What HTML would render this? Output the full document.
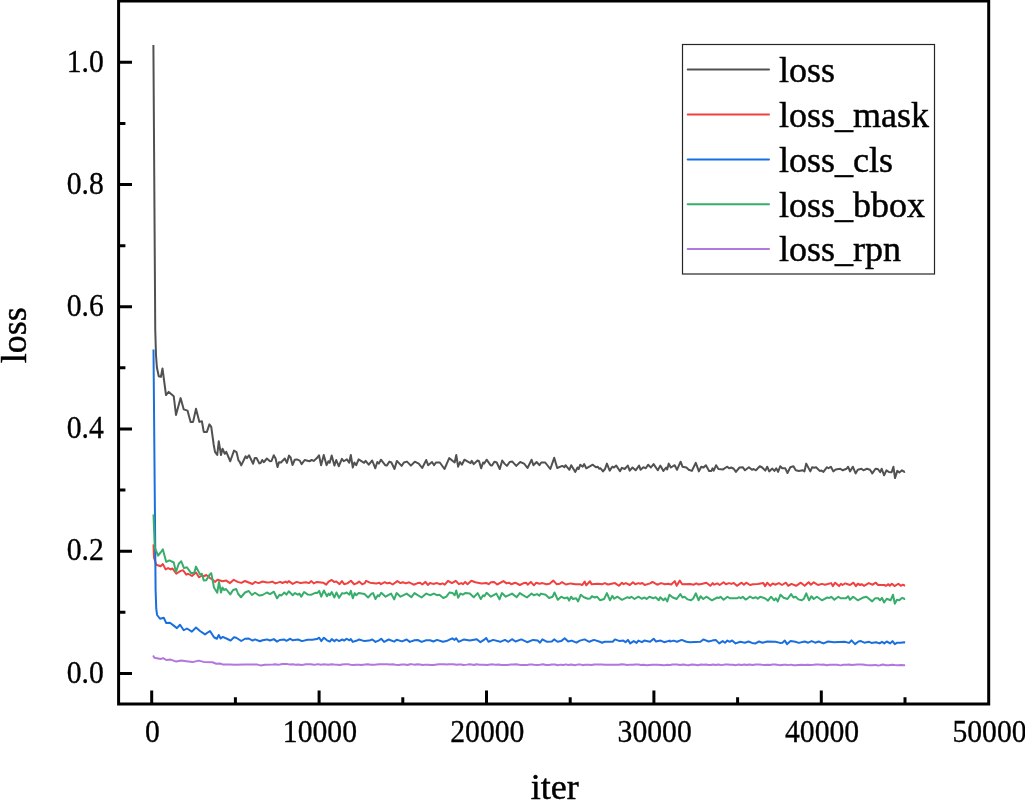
<!DOCTYPE html>
<html lang="en"><head><meta charset="utf-8"><title>loss curves</title>
<style>
html,body{margin:0;padding:0;background:#fff;}
body{width:1025px;height:800px;overflow:hidden;}
svg{display:block;}
text{font-family:"Liberation Serif","Times New Roman",serif;fill:#000;stroke:#000;stroke-width:0.45px;}
.tk text{font-size:30px;stroke-width:0.3px;}
.lb{font-size:36px;}
.ln{fill:none;stroke-width:2;stroke-linejoin:round;stroke-linecap:butt;}
.ax{stroke:#000;stroke-width:3;fill:none;stroke-linecap:butt;}
</style></head><body>
<svg width="1025" height="800" viewBox="0 0 1025 800">
<rect x="0" y="0" width="1025" height="800" fill="#ffffff"/>
<g id="curves">
<polyline class="ln" stroke="#515151" points="153.4,45 155.25,330 156,355 156.9,367.5 158.75,376.25 160.9,376.9 162.5,368.5 166,395 168.75,391.9 173.75,396.25 176,415 180.6,398.1 183.75,409.4 187.5,410.6 190.6,421.9 193.1,421.9 196,408.75 199.4,421.9 201.9,421.25 203.75,431.9 206.9,431.9 209.4,424.4 211.25,426.9 213.75,445 215,451.9 217.25,455 218.75,441.25 221,455 222.5,448.75 224.75,453.75 226.25,451.9 230.25,461.25 234,450.6 236.5,452.1 238.5,460.6 239.4,461.25 241.25,465.4 245.6,456.25 246.9,458.1 249,455.25 253.1,463.75 254.75,458.1 256.5,458.1 259.4,463.4 260.6,463.1 262.25,460 263.75,462.25 266.9,458.5 270,461.25 271.5,461 273.75,455.25 275.6,458.5 277.5,467.1 279,462.25 281,462.5 284.75,458.5 286.9,462.9 289,455.6 290.6,457.5 292.5,465 294.75,459.75 296.9,459.4 299.75,460.6 301.6,464.1 304.7,460 309.4,461.25 311.7,460 313.75,460.9 316.9,458.1 319,455.3 321.1,465.2 323.75,455 326.6,465.2 328.4,461.25 329.7,462.8 331.7,455.5 334.4,465.6 336.25,460 338.75,466.25 341.9,458.9 343.75,461.25 346.9,459.4 349.2,462.8 350.8,455 352.8,467.5 354.4,462.5 356.25,465.2 358.6,459.4 364.1,462.8 365.6,460.9 368.75,464.7 372.2,460.5 375.3,468.3 377.3,462 378.9,463.6 380.9,459.7 385.2,465.2 386.7,465.6 389.4,461.6 391.4,462.5 394.5,469 396.9,460.9 401.6,465.9 403.9,462.5 407,461.6 410.9,465.6 414.8,461.7 418.75,463.6 422.2,468 426.25,460 428.1,465.2 432,462 434.1,465.2 435.9,462.5 439.8,462.5 444.5,469 449.2,458.1 454.7,462.5 456.25,455 458.1,466.7 460,462 461.9,464.7 464.4,459.7 467.8,461.6 470.6,463.1 471.7,460.9 473.75,464.1 477.5,460.5 479.1,461.25 481.1,468.3 483.1,462.5 484.2,463.6 486.6,459.7 490.5,465.2 492,465.6 494.4,461.7 496.7,462.5 499.8,469 502.2,460.5 504.5,463.6 506.9,465.9 509.7,462 512.3,461.6 516.25,465.9 520.2,462 524.1,463.6 527.5,468 531.6,459.7 533.4,465.2 536.6,462 539.4,465.2 541.25,462.5 545.2,462.5 550.3,469 554.2,457.8 557.2,468 562.3,465.9 564.4,467.2 565.5,465.2 569.4,469.8 571.25,465.2 575.3,471.9 577.5,467.5 578.75,469 580.3,464.7 582.7,466.7 584.2,464.1 586.25,468.3 592.8,464.7 595.9,467.2 597.8,466.7 599.1,468.75 600.6,468.3 603,471.4 605,469 606.9,463.6 609.7,470.6 612.3,466.7 613.9,467.5 616.25,465.6 620,471.2 621.9,467.8 624.7,469 627.8,465.6 629.7,470.6 632.5,467.5 635.6,470.3 639.1,465.6 640.6,469.8 643.4,467.2 645.8,468.3 648.1,464.7 650.9,467.5 653.6,464.1 657.8,470.3 660.3,465.6 663.4,470.9 666.1,467.5 667.2,469.4 668.75,463.6 670.8,467.5 674.7,465.2 677,469.8 680.6,461.7 682.5,466.7 686.4,467.5 688.75,469.8 691.9,470.9 695.8,462.8 698.9,471.4 701.25,466.7 703.6,467.5 705.9,465.2 709.1,470.9 711.4,470.9 712.5,468.3 713.75,470.6 716.1,465.2 718.4,469 723.1,469.4 727,466.7 729.4,468.3 731.25,467.5 733.75,468.75 735.9,471.9 739.5,467.5 742.7,467.2 745,470.3 748.9,467.2 752,469.8 753.6,469 755.9,470.3 759.8,466.25 762.2,467.5 765.3,470.6 767.2,466.7 769.2,471.4 772.3,468.6 774.4,470.9 776.25,468.3 778.1,471.9 780.2,466.25 782.2,468.3 785.3,468.3 787.5,473 790.3,467.2 793.4,466.25 795.8,470.3 798.9,470.9 802.8,470.3 804.4,471.4 806.25,463.6 810.3,471.4 812.2,467.2 814.1,467.8 816.1,467.2 819.7,470.9 821.6,470.6 823.4,471.9 827,467.2 828.6,468.3 830.9,466.7 833.3,471.4 835.6,469.4 840.3,468.75 842.7,470.3 846.6,468.75 848.1,466.7 850,471.4 852.8,466.7 855.6,473.4 857.8,469.8 861.4,468.75 863.4,470.3 866.9,468.75 870,469.8 872.3,473.4 875.5,468.75 877.8,469 880.2,472.2 881.7,468.75 884.1,475.3 886.4,470.3 888.75,471.9 891.6,472.2 893.4,466.7 895,478.1 897.3,470.9 899.4,472.5 902,470.3 904.4,471.9 905,471.7"/>
<polyline class="ln" stroke="#F14040" points="153.5,544.4 154,557.5 156.25,564.75 160.6,566.25 162.9,564.1 165.6,569.4 168.1,568.1 170.6,569.4 172.5,568.5 176.25,573.75 180.6,570.9 183.1,570.25 186.25,574.6 188.1,573.75 191.9,576 196,572.5 199,577.25 201.9,575.6 203.75,576.25 206.25,575 210,578.1 213.1,580 215,581.9 217.5,579.75 222.5,581.25 226.25,580.6 230,583.1 233.75,579.75 237.5,581.9 241.25,582.9 245,581 248.75,582.5 252.5,584 255,581.9 258.75,583.1 262.5,581.5 266.9,582.5 270,582.2 272.3,581.6 275.5,583.4 280.2,581.9 282.5,583 285.6,581.6 287.2,582.7 288.75,581.1 292.7,583.9 296.6,581.9 300.5,583 305.9,582.2 309.1,583.1 311.4,581.1 313.75,583.4 316.9,581.9 323.1,582.7 326.25,584.7 328.6,581.6 331.7,580 334.1,581.9 336.4,581.6 339.5,584.2 341.9,581.1 344.2,584.2 347.3,583.4 350.9,580.8 354.1,584.2 356.7,583.4 359.1,581.6 362.2,584.2 364.5,583.4 366.1,580.8 370,582.7 376.25,583.4 379.4,582.7 380.9,584.2 384.8,582.2 387.2,583.4 389.5,582.7 392.7,584.5 397.3,581.1 400.5,583.1 402.8,582.2 405.9,583.4 409.1,582.3 413.75,584.7 417.7,583.1 420,582.7 422.3,584.5 425.5,581.9 427.8,585 430,583 433.1,583.9 437,583.1 440.2,584.2 442.5,583.4 444.8,584.7 448,580.8 451.9,583.1 455.8,580.8 458.9,584.2 461.25,583.1 463.1,584.2 465.2,581.9 467.5,584.2 471.4,580.8 475.3,582.3 481.6,583.4 486.25,583 488.6,584.2 490.9,582.3 494.1,581.9 497.2,584.5 503.4,581.1 506.6,583.4 508.9,582.7 511.25,584.2 515.2,582.7 519.8,585 523.75,583.1 526.1,582.7 527.7,584.7 530.8,581.9 533.9,585.3 536.25,582.7 539.4,583.75 542.5,583.1 546.4,584.2 549.5,583.75 553.4,580.6 556.6,584.2 559.7,583.75 562,582.2 565.9,584.5 570.6,583.4 575.3,584.2 580,584.2 582.3,585 584.7,581.6 586.25,585.3 590,581.3 591.6,584.2 597.8,583.75 602.5,584.2 604.8,583.1 608,584.5 615,583.1 618.9,585.8 622,582.7 623.6,584.2 625.9,583.1 629.8,585 633,582.3 635.3,584.2 638.4,583.1 640.3,583.75 642.3,583 644.7,585 650.2,583.4 652.5,581.9 657.2,584.7 661.1,583.1 665,584.2 668.1,583.75 671.25,584.5 674.8,581.1 676.7,585.8 679.8,580.6 682.2,584.2 690,583.9 693.9,584.7 696.25,583.4 698.6,584.5 702.5,583.75 706.4,582.7 710.3,585.8 712.7,583.1 714.2,584.7 717.3,583.4 719.7,585 723.6,582.3 725.9,584.2 729.1,583.1 731.4,583.9 733.75,583 736.9,585.8 741.6,582.7 743.9,584.7 746.25,582.7 750,585 753.1,584.2 757.8,583.9 763.3,583.1 765.2,586.1 767.2,582.7 770.3,585.8 772.7,583.4 775,584.7 778.9,583.1 782,585 785.9,582.7 788.3,585.8 791.4,583.9 796.1,585.8 800.8,582.7 804.7,585.8 808.6,582.3 810.9,584.7 813.75,582.3 818,585 821.9,583.9 825,584.7 831.25,583.1 832.8,586.1 835.2,582.7 839.1,586.1 840.9,583.75 842.5,585 845.3,583.4 850,585 853.4,582.7 855.9,586.1 857.8,583.75 860.2,585 861.7,584.2 864.1,585.8 868.75,583.1 872.7,584.7 875.8,582.7 878.1,585 884.4,585 885.9,585.8 888.3,584.2 889.8,585.8 891.9,583.75 894.5,586.1 898.4,583.75 900.8,585.8 902.8,584.7 904.7,585.5 905.1,585.4"/>
<polyline class="ln" stroke="#1A6FDF" points="153.5,349.4 155.6,590 156.25,608.75 157.1,615 160,618.75 163.75,617.75 166.25,623.1 170,622.75 173.75,625.6 176.9,628.1 180,624.75 183.75,630.25 186.9,628.5 191.9,631.6 196,627.5 200,631 205,634.4 210,631 214,637.25 216.9,638.75 218.75,635 220.6,638.5 222.75,636.9 227.5,639 230.6,640.6 234,637.25 236.25,637.75 241.25,641 245,638.75 248.75,638.5 252.5,640.6 255,639.4 260,641.25 262.5,640.25 266.9,639.4 270,640.5 273.9,639.1 277,641.6 279.7,640 284.4,639.5 286.4,640.8 290.3,638.75 292.7,640.3 298.1,639.5 302,641.1 307.5,639.8 312.2,639.8 316.9,639.1 319.2,637.7 321.25,641.1 323.9,637.7 327,640.3 329.8,641.6 331.7,639.1 334.4,641.1 336.4,639.5 339.1,641.1 342.2,639.5 344.2,640.6 346.6,638.75 349.4,640.3 350.9,639.1 352.8,641.9 356.25,640.8 359.1,639.5 364.5,641.1 369.2,640.6 372.3,639.5 375.5,641.9 379.1,640.3 381.25,638.75 384.1,641.9 388.75,639.5 394.2,641.6 396.6,639.8 402,641.4 406.7,639.5 409.8,641.9 414.5,640.3 417.7,640 421.6,641.9 426.25,640.3 430,640.2 433.5,641.5 437,639.9 442.9,641.8 446.4,641.1 452.2,638.3 454.6,639.9 456.2,638.3 458.6,641.8 464,639.4 469.8,640.6 476.8,639.2 480.4,642.2 483.9,639.9 486.2,638 488.5,641.8 493.2,639.9 500.3,641.8 504.9,639.9 508.4,641.8 512,639.2 515.5,641.5 521.3,639.4 527.2,642.2 533,639.9 537.7,640.6 540,642.7 542.4,639.4 547.1,641.8 551.8,641.5 554.1,639.4 557.6,641.8 561.1,641.1 564.7,638.3 568.2,641.5 571.7,640.6 576.4,642.7 579.9,640.6 584.6,639.4 589.25,641.8 593.9,639.9 599.8,641.8 602.1,642.7 604.5,641.8 612.7,641.8 615,639.4 619.7,641.1 623.2,640.6 625.6,642.2 627.9,639.9 630.2,643.4 633.7,641.1 636.6,642.9 638.4,640.6 641.9,642.2 644.3,640.6 650.1,641.8 653.6,638.7 656,641.5 660.7,640.6 664.2,642.2 669.8,640.6 670,641.6 673.5,640.6 677,641.8 681.7,639.9 686.4,641.8 689.9,642.2 700.4,641.8 703.3,639.4 708.6,641.5 712.2,640.6 715.7,639.9 719.2,643.4 722.7,641.1 725,642.7 727.4,640.6 729.7,641.8 732.1,640.4 735.6,643.4 740.3,641.8 744.9,642.7 748.5,641.5 752,642.9 755.5,643.4 759,641.5 762.5,642.7 767.2,641.5 775.4,641.8 780.1,642.9 782.4,642.7 784.8,640.6 787.1,644.1 790.6,641.1 795.3,641.8 798.8,642.9 804.7,641.5 808.2,642.7 811.7,641.1 815.2,642.7 818.7,641.5 823.4,643.4 828.1,641.5 833.9,642.2 844.5,641.8 849.2,642.9 851.5,640.4 855,644.1 858.5,641.5 860.9,641.1 864.4,642.7 869.1,641.8 871.4,642.9 876.1,642.2 879.6,643.4 882,641.8 884.3,643.4 886.7,641.5 890.2,643.4 892.5,641.1 894.8,644.1 897.2,642.7 900.7,642.7 904.2,642.2 905.1,642.4"/>
<polyline class="ln" stroke="#37AD6B" points="153.5,514.4 154.75,547.5 158.1,555.6 160.6,552.5 162.9,549.4 166.25,561.9 169.4,560.4 173.75,562.5 176,571.9 178.75,563.75 181.25,561.25 184,568.1 186.9,567.25 191.25,573.4 194.4,572.5 196,566.6 200,574.4 201.9,573.75 203.75,580.6 206.25,580.25 209.4,575 211.25,573.1 214,587.5 217.25,592.75 219,581.9 221,592.5 222.5,587.5 224,590 226,589 230.25,594.4 233.1,590 236.25,589 238.1,593.75 241,597.25 245,592.5 248.75,591 251.9,595 255,592.75 259.4,595.6 262.5,595 266.9,592.5 270,594.1 273.9,591.7 277,598.3 279.7,594.7 281.25,595.6 284.4,592.5 286.4,594.7 288.75,591.25 292.7,595.2 295,593.1 297.8,594.7 299.4,593.6 301.25,596.7 304.1,592 307.5,594.4 311.4,594.7 315.3,592.8 317.2,593.1 319.2,590.9 321.25,596.7 323.9,590.5 327,596.25 328.6,593.6 329.8,595.2 331.7,592 334.4,597.5 336.4,592.5 339.1,597.8 342.2,593.1 344.2,593.6 346.6,592.5 349.4,594.7 350.9,590.9 352.8,598.3 354.7,593.1 356.25,595.2 358.75,593.1 364.5,594.1 368.1,597.5 371.6,593.6 373.1,593.1 375.5,599 377.8,595.2 379.1,596.25 381.25,592.8 385.6,596.7 391.1,593.6 394.2,599.4 396.6,593.1 400.5,596.7 406.7,593.6 411.4,597.2 414.5,593.1 417.7,595.2 421.6,597.5 426.25,593.6 430,595.2 433.9,593.6 437,595.2 439.4,594.7 443.3,598 446.4,596.7 449.5,592.5 452.7,593.1 454.7,595.2 456.25,590.5 458.1,597.8 460.5,593.6 462.8,594.7 465.2,593.1 469.8,593.6 473.75,597.2 477.7,593.1 480.8,599 483.1,595.2 484.4,596.25 486.6,592.8 490.9,596.7 496.4,593.6 499.5,599.4 501.9,593.1 505.8,596.7 512,593.6 516.7,597.2 519.8,593.1 523,595.2 526.9,597.5 531.6,593.6 533.9,595.2 537,594.1 539.4,595.6 540.9,593.6 545.6,594.7 549.1,598 552.7,596.7 554.5,592.5 557.8,599.8 561.25,596.7 564.4,598.3 567.5,597.5 569.1,600.6 571.1,596.7 573,599 576.1,598.3 578.1,601.4 580.8,594.7 583.9,597.2 587.8,598.75 590,598.6 591.9,596.25 594.7,597.5 597,596.7 600.2,600.3 604.1,599 606.9,593.1 610,600.3 612.3,595.9 614.2,598.75 617.3,596.7 622,599.8 627.5,597.2 629.8,598 631.4,596.7 634.5,599 638.4,596.7 641.6,598.75 644.7,597.5 646.6,599 649.4,596.7 653.3,598.3 655.6,597.2 658.75,600.3 660.3,597.2 663.4,600.3 665.3,598.3 667.3,601.4 669.4,594.7 672.8,597.5 676.7,599 680.3,594.1 682.5,597.5 684.5,596.7 687.7,599.4 690.8,600.3 693.1,598.75 695.9,593.3 698.6,600.3 700.6,596.25 703.3,599 706.4,596.7 711.9,600.3 717.3,597.5 718.9,598 720.5,596.7 723.6,599.8 727.5,596.7 729.8,598.3 736.9,598.3 739.2,597.2 740.8,598.3 742.8,596.7 745.5,599.5 747.8,598.3 750,596.5 753.1,598.3 755.5,597.2 757.8,598.75 760.2,596.7 764.8,598.3 768,600.6 771.1,596.7 774.2,600.3 775.8,598.3 777.8,601.4 780.5,594.7 783.6,597.8 787.5,599 791.1,594.1 793.4,597.5 795.6,596.7 798.4,599.4 801.6,600.3 803.9,598.75 806.25,593.3 809.1,600.3 811.4,596.25 813.75,599 816.9,596.7 821.9,600.3 827.3,597.5 829.4,598 831.25,596.7 834.4,599.8 838.3,596.7 840.6,598.3 846.1,598.3 848.1,596.25 850,599.8 853.1,596.7 857.8,600.3 862.5,597.8 866.4,596.7 872.2,601.4 875,598.3 878.1,598.3 880,600.3 882,597.8 884.1,602.5 886.7,598.75 890.6,600.3 893,594.7 894.8,603.75 896.9,599.8 899.2,600.3 902.3,597.8 904.7,599 905.1,598.9"/>
<polyline class="ln" stroke="#B177DE" points="153.1,655.6 154.4,657.75 160.6,659 163.1,658.1 166.25,660 170.6,659.6 176.25,661.6 181.25,660.6 186.25,661.25 192.5,662.1 198.75,660.6 203.75,661.9 212.5,662.25 216.25,663.75 220,663.5 222.5,664.4 230,664.4 235,664.75 245,664.6 257.5,664.6 260.6,665.4 265,664.75 273,664.6 275.5,664.34 277.7,664.64 279.8,664.54 282.3,664.11 285,664.09 287.6,664.12 289.8,664.45 292.9,664.18 295.2,664.63 298.6,664.59 301.1,664.95 303.2,664.85 305.6,664.21 307.8,664.36 310.9,664.24 313.7,664.66 316.2,664.58 318.3,664.14 320.6,664.7 323.2,664.37 326,664.5 328.4,664.81 331.4,664.32 334.2,664.57 337.5,664.76 339.9,664.99 342,664.48 345.1,664.24 347.8,664.14 350.7,664.8 353.5,664.9 355.9,664.74 358.8,664.64 361.4,664.88 364.7,664.55 367.7,664.18 370.7,664.71 374,664.87 376.4,664.48 379.4,664.15 382,664.29 384.2,664.19 387.3,664.26 389.6,664.49 392.8,664.22 395.5,664.64 398.7,664.89 401.9,664.4 404.5,664.48 407.7,665.02 409.9,664.32 412.3,664.37 414.9,664.69 417.3,664.17 419.9,664.5 422.7,665.03 425.7,664.63 428.5,664.78 430.6,664.98 433.7,664.96 436.8,664.53 439.4,664.27 442.2,664.24 444.3,664.37 446.6,664.49 448.6,664.19 450.9,664.28 453.4,664.22 456.6,664.75 458.8,664.42 461.3,664.53 463.5,664.96 466.8,664.62 469.5,664.28 471.7,664.52 474,664.96 476.3,664.23 479.6,664.69 481.8,664.7 483.8,664.69 487.2,665 490.2,664.46 492.7,664.37 495.8,664.71 498.9,664.53 501.2,664.96 504.6,665 507.7,664.97 510.7,664.44 513.4,664.56 515.5,664.27 517.9,664.48 520.8,665.11 523.5,665.09 526.9,665.11 529.4,664.45 531.7,664.43 534,664.82 537.2,665.02 539.9,664.85 543,664.34 545.9,665.08 549,664.94 551.7,664.43 554.8,664.57 557.9,665.15 560.5,664.64 563.8,664.93 566.1,664.4 568.3,665.1 571.4,664.42 574.6,665.17 577.5,664.61 580.2,664.41 582.3,665.17 585.2,664.77 588.5,664.69 591.7,665.05 594,664.53 596.4,664.52 599.2,664.54 601.8,664.43 605.1,664.63 607.7,664.84 611,664.7 614.3,664.77 617,664.79 619,664.72 621.3,664.33 624.4,664.48 627.1,664.98 629.9,664.63 632.6,664.83 635.7,664.43 638.5,664.56 640.9,665.04 643.6,664.85 646.6,665.17 649.3,664.9 652,664.81 654.9,664.76 657.7,664.78 661,664.99 664.2,665.21 666.6,664.87 669.9,665.12 672.1,664.48 674.7,664.43 677.1,664.44 680,665.08 683.3,664.51 686.3,664.97 688.5,665.17 691.8,664.58 695.1,664.74 697.8,665.28 701,664.53 703.6,664.85 706.1,664.57 708.5,665.04 710.5,664.9 713.2,664.41 715.6,664.96 718.3,664.46 721.7,665.11 725.1,664.5 727.5,664.45 730.5,664.66 732.7,664.79 736,665.15 738.4,664.55 741.6,664.93 744.6,664.5 746.7,665.04 749.3,664.49 752.6,665 755.7,664.51 758.9,664.49 762.1,664.85 764.6,664.94 767.9,664.68 770.1,664.92 772.4,664.54 774.7,664.49 776.9,664.73 779.4,665.13 781.8,664.9 784,664.77 786.1,664.68 788.1,665.12 790.8,664.63 793.5,665.3 795.7,665.2 798.3,664.91 801.4,664.82 804.1,665.09 807.5,664.78 810.7,665.11 813.6,664.84 816.1,664.53 818.2,664.55 821.3,664.71 823.5,664.56 826.7,665.27 829.6,664.74 832,664.76 834.6,664.64 837.2,664.73 840.6,665.37 843.3,664.72 846.7,664.78 849.2,664.51 851.7,664.94 854.4,664.69 857.1,664.52 859.5,664.6 862.1,664.55 864.1,664.79 866.4,665.05 869.2,665.2 872.1,665.17 875.3,664.88 877.8,665.42 880,665.18 882.9,664.57 886.1,665.34 888.9,665.2 892.1,664.67 894.8,665 898,665.27 901.1,665.07 904.4,665.16 905,665"/>
</g>
<g id="axes">
<rect class="ax" x="118.6" y="1.0" width="870.1" height="703"/>
<path class="ax" d="M118.6,673.40h13.4M118.6,612.29h6.8M118.6,551.18h13.4M118.6,490.07h6.8M118.6,428.96h13.4M118.6,367.85h6.8M118.6,306.74h13.4M118.6,245.63h6.8M118.6,184.52h13.4M118.6,123.41h6.8M118.6,62.30h13.4M151.70,704v-13.4M235.40,704v-6.8M319.10,704v-13.4M402.80,704v-6.8M486.50,704v-13.4M570.20,704v-6.8M653.90,704v-13.4M737.60,704v-6.8M821.30,704v-13.4M905.00,704v-6.8"/>
</g>
<g id="ticklabels" class="tk">
<text transform="translate(103.8,682.6) scale(0.99,1.06)" text-anchor="end">0.0</text>
<text transform="translate(103.8,560.4) scale(0.99,1.06)" text-anchor="end">0.2</text>
<text transform="translate(103.8,438.2) scale(0.99,1.06)" text-anchor="end">0.4</text>
<text transform="translate(103.8,315.9) scale(0.99,1.06)" text-anchor="end">0.6</text>
<text transform="translate(103.8,193.7) scale(0.99,1.06)" text-anchor="end">0.8</text>
<text transform="translate(103.8,71.5) scale(0.99,1.06)" text-anchor="end">1.0</text>
<text transform="translate(152.5,742.4) scale(0.99,1.06)" text-anchor="middle">0</text>
<text transform="translate(319.9,742.4) scale(0.99,1.06)" text-anchor="middle">10000</text>
<text transform="translate(487.3,742.4) scale(0.99,1.06)" text-anchor="middle">20000</text>
<text transform="translate(654.7,742.4) scale(0.99,1.06)" text-anchor="middle">30000</text>
<text transform="translate(822.1,742.4) scale(0.99,1.06)" text-anchor="middle">40000</text>
<text transform="translate(989.5,742.4) scale(0.99,1.06)" text-anchor="middle">50000</text>
</g>
<text class="lb" x="554.8" y="799" text-anchor="middle">iter</text>
<text class="lb" transform="translate(25.9,335.2) rotate(-90)" text-anchor="middle">loss</text>
<g id="legend">
<rect x="682.5" y="44.5" width="252" height="229.5" fill="#fff" stroke="#262626" stroke-width="1.2"/>
<line x1="687.7" y1="69.6" x2="769" y2="69.6" stroke="#515151" stroke-width="2" stroke-linecap="round"/>
<text class="lb" x="779" y="81.9">loss</text>
<line x1="687.7" y1="114.4" x2="769" y2="114.4" stroke="#F14040" stroke-width="2" stroke-linecap="round"/>
<text class="lb" x="779" y="126.7">loss_mask</text>
<line x1="687.7" y1="159.6" x2="769" y2="159.6" stroke="#1A6FDF" stroke-width="2" stroke-linecap="round"/>
<text class="lb" x="779" y="171.9">loss_cls</text>
<line x1="687.7" y1="204.3" x2="769" y2="204.3" stroke="#37AD6B" stroke-width="2" stroke-linecap="round"/>
<text class="lb" x="779" y="216.6">loss_bbox</text>
<line x1="687.7" y1="249.0" x2="769" y2="249.0" stroke="#B177DE" stroke-width="2" stroke-linecap="round"/>
<text class="lb" x="779" y="261.3">loss_rpn</text>
</g>
</svg></body></html>
